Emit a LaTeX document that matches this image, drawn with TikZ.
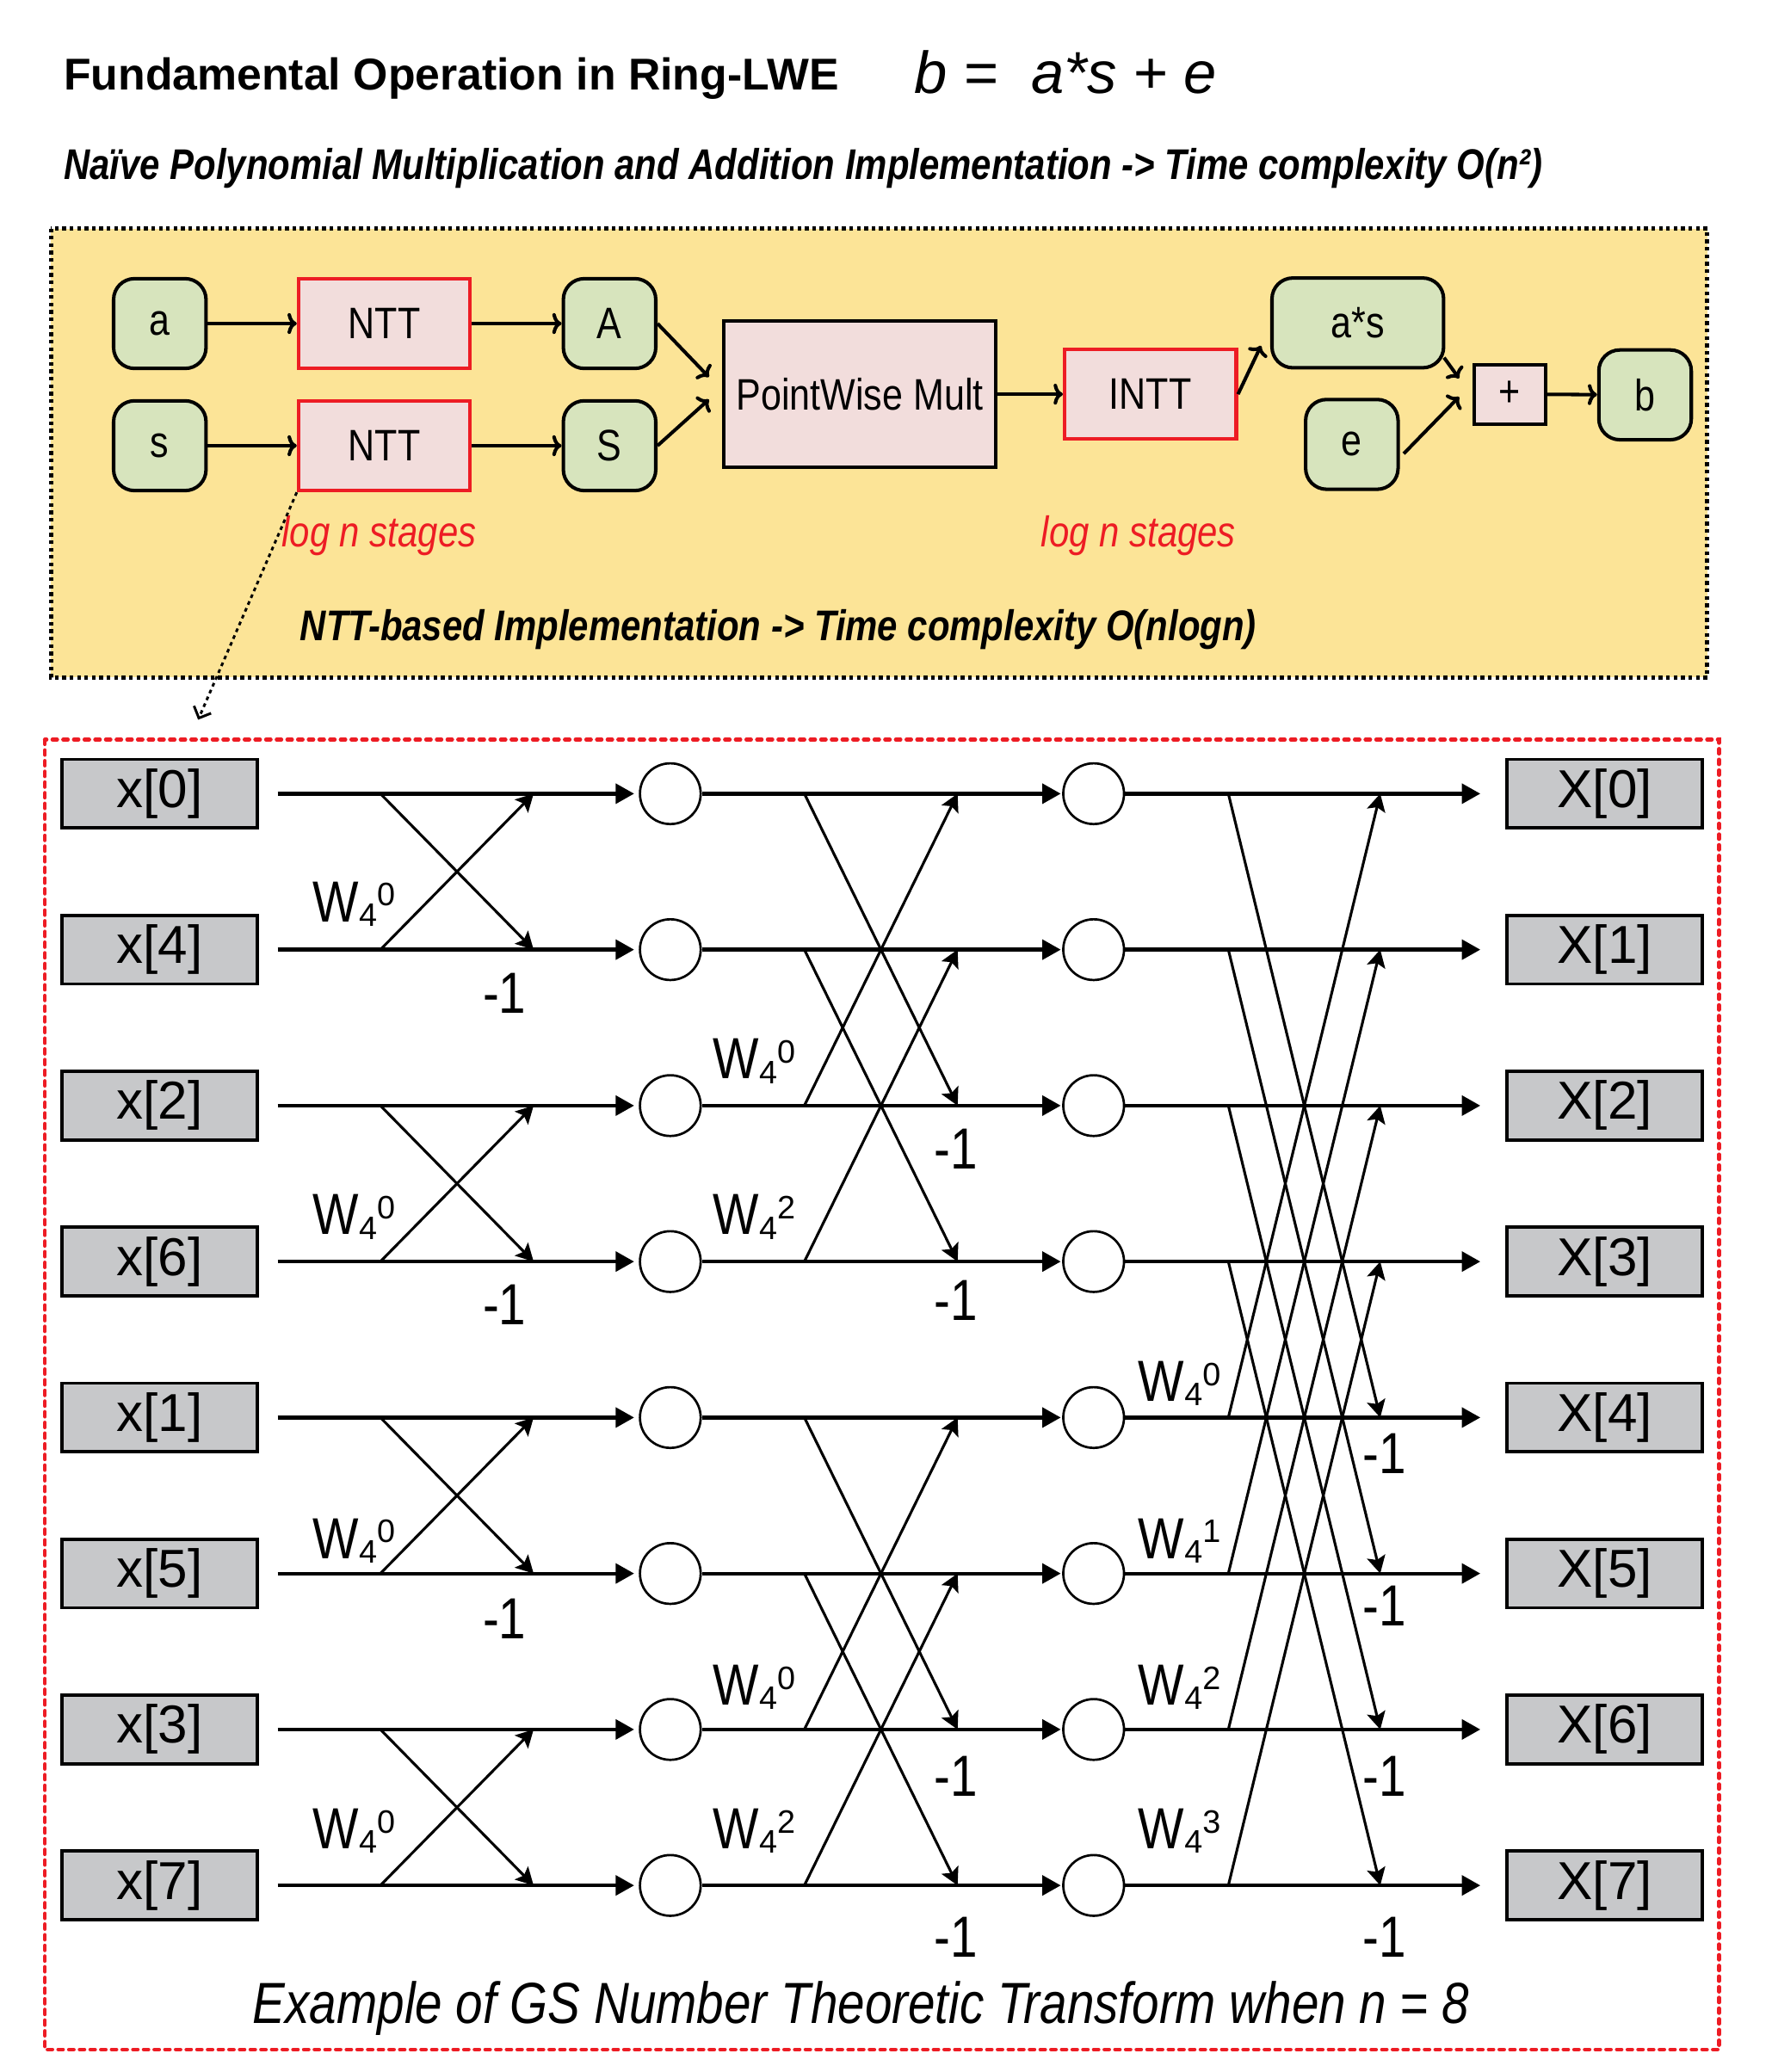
\documentclass[tikz,border=0pt]{standalone}
\usepackage{fontspec}
\setmainfont{Liberation Sans}
\newfontfamily\narrowsans[FakeStretch=0.84]{Liberation Sans}
\usepackage{tikz}
\usetikzlibrary{arrows.meta,positioning,calc}
\definecolor{flowyellow}{RGB}{252,228,151}
\definecolor{valgreen}{RGB}{215,228,189}
\definecolor{oppink}{RGB}{242,221,220}
\definecolor{nttred}{RGB}{237,28,36}
\definecolor{regray}{RGB}{199,200,202}
% 旋转因子 W_4^k
\newcommand{\twid}[1]{{\narrowsans W}\raisebox{-1.9pt}{\fontsize{14}{14}\selectfont 4}\raisebox{6.8pt}{\fontsize{14}{14}\selectfont #1}}
\tikzset{
  % 绿色变量节点
  val/.style={
    draw=black,
    line width=1.5pt,
    fill=valgreen,
    rounded corners=9pt,
    minimum width=1.4cm,
    minimum height=1.36cm,
    inner sep=0pt,
    font=\narrowsans\fontsize{19}{22}\selectfont
  },
  % NTT / INTT 盒子
  trans/.style={
    draw=nttred,
    line width=1.5pt,
    fill=oppink,
    minimum width=2.6cm,
    minimum height=1.36cm,
    inner sep=0pt,
    font=\narrowsans\fontsize{19}{22}\selectfont
  },
  % 运算盒子
  oper/.style={draw=black, line width=1.5pt, fill=oppink, inner sep=0pt,
    font=\narrowsans\fontsize{19}{22}\selectfont},
  % 输入输出盒子
  reg/.style={draw=black, line width=1.4pt, fill=regray,
    minimum width=2.96cm, minimum height=1.04cm, inner sep=0pt,
    font=\fontsize{23}{27}\selectfont},
  % 蝶形节点
  knot/.style={circle, draw=black, line width=1pt, fill=white,
    minimum size=0.92cm, inner sep=0pt},
  % 箭头样式
  arr/.style={-{To[length=4pt,width=9pt]}, line width=1.5pt},
  harr/.style={-{Triangle[length=8pt,width=8.5pt]}, line width=1.6pt},
  barr/.style={-{Stealth[length=7.5pt,width=8pt,inset=1.5pt]}, line width=1.15pt},
  % 标注
  wlab/.style={anchor=base, inner sep=0pt, font=\fontsize{25}{28}\selectfont},
  mlab/.style={anchor=base, inner sep=0pt, font=\narrowsans\fontsize{25}{28}\selectfont},
  note/.style={inner sep=0pt, font=\narrowsans\bfseries\itshape\fontsize{18.5}{22}\selectfont},
}
\begin{document}
\begin{tikzpicture}[x=0.02cm, y=-0.02cm]
  \useasboundingbox (0,0) rectangle (1341,1569);

  % 标题
  \node[anchor=base west, inner sep=0pt, font=\bfseries\fontsize{19.2}{23}\selectfont] (title) at (48,68) {Fundamental Operation in Ring-LWE};
  \node[anchor=base west, inner sep=0pt, font=\itshape\fontsize{25.5}{30}\selectfont] (eqn) at (692,71) {b =\ \ a*s + e};
  \node[note, anchor=base west] (naive) at (48,136) {Naïve Polynomial Multiplication and Addition Implementation -> Time complexity O(n²)};

  % NTT 流程
  \draw[dash pattern=on 1.6pt off 1.6pt, line width=1.8pt, fill=flowyellow] (38.5,173) rectangle (1292.5,513);
  \node[val] (a) at (121,245) {a};
  \node[trans] (ntta) at (291,245) {NTT};
  \node[val] (A) at (461.5,245) {A};
  \node[val] (s) at (121,337.5) {s};
  \node[trans] (ntts) at (291,337.5) {NTT};
  \node[val] (S) at (461.5,337.5) {S};
  \node[oper, minimum width=4.12cm, minimum height=2.22cm] (pw) at (651,298.5) {PointWise Mult};
  \node[trans] (intt) at (871,298.5) {INTT};
  \node[val, minimum width=2.6cm] (as) at (1028,244.5) {a*s};
  \node[val] (e) at (1023.5,336.5) {e};
  \node[oper, minimum width=1.08cm, minimum height=0.9cm] (plus) at (1143,298.5) {+};
  \node[val] (b) at (1245.5,299) {b};

  \coordinate (pwin1) at ($(pw.west)+(-10,-13)$);
  \coordinate (pwin2) at ($(pw.west)+(-10,4)$);
  \coordinate (asin) at ($(as.south west)+(-7,-18)$);
  \coordinate (asout) at ($(as.south east)+(-1,-9)$);
  \coordinate (eout) at ($(e.east)+(3,7)$);
  \coordinate (plusin1) at ($(plus.west)+(-10,-12)$);
  \coordinate (plusin2) at ($(plus.west)+(-10,2)$);

  \draw[arr] (a) -- (ntta);
  \draw[arr] (ntta) -- (A);
  \draw[arr] (s) -- (ntts);
  \draw[arr] (ntts) -- (S);
  \draw[arr] (A.east) -- (pwin1);
  \draw[arr] (S.east) -- (pwin2);
  \draw[arr] (pw) -- (intt);
  \draw[arr] (intt.east) -- (asin);
  \draw[arr] (asout) -- (plusin1);
  \draw[arr] (eout) -- (plusin2);
  \draw[arr] (plus) -- (b);

  \node[anchor=base, inner sep=0pt, text=nttred, font=\narrowsans\itshape\fontsize{18.5}{22}\selectfont] (stga) at (287,414) {log n stages};
  \node[anchor=base, inner sep=0pt, text=nttred, font=\narrowsans\itshape\fontsize{18.5}{22}\selectfont] (stgb) at (862,414) {log n stages};
  \node[note, anchor=base west] (nttcost) at (227,485) {NTT-based Implementation -> Time complexity O(nlogn)};

  \coordinate (zoomtip) at (150,545);
  \draw[dash pattern=on 1.6pt off 1.6pt, line width=1.1pt, -{Straight Barb[length=4pt,width=8pt]}] (ntts.south west) -- (zoomtip);

  % GS 蝶形网络
  \draw[nttred, line width=1.7pt, line cap=round, dash pattern=on 2pt off 2.6pt] (34,560) rectangle (1301.5,1552);
  \foreach \i/\k in {0/0,1/4,2/2,3/6,4/1,5/5,6/3,7/7} {
    \pgfmathsetmacro{\yy}{601+118.1*\i}
    \node[reg] (in\i) at (121,\yy) {x[\k]};
    \node[knot] (ca\i) at (507.5,\yy) {};
    \node[knot] (cb\i) at (828,\yy) {};
    \node[reg] (out\i) at (1215,\yy) {X[\i]};
    \coordinate (sa\i) at (288,\yy);
    \coordinate (ea\i) at (404,\yy);
    \coordinate (sb\i) at (609,\yy);
    \coordinate (eb\i) at (725,\yy);
    \coordinate (sc\i) at (930,\yy);
    \coordinate (ec\i) at (1045,\yy);
    \draw[harr, shorten <=0.28cm, shorten >=0.07cm] (in\i) -- (ca\i);
    \draw[harr, shorten >=0.02cm] (ca\i) -- (cb\i);
    \draw[harr, shorten >=0.38cm] (cb\i) -- (out\i);
  }
  \foreach \t/\b in {0/1,2/3,4/5,6/7} {
    \draw[barr] (sa\t) -- (ea\b);
    \draw[barr] (sa\b) -- (ea\t);
  }
  \foreach \t/\b in {0/2,1/3,4/6,5/7} {
    \draw[barr] (sb\t) -- (eb\b);
    \draw[barr] (sb\b) -- (eb\t);
  }
  \foreach \t/\b in {0/4,1/5,2/6,3/7} {
    \draw[barr] (sc\t) -- (ec\b);
    \draw[barr] (sc\b) -- (ec\t);
  }

  % 旋转因子与 -1
  \foreach \n/\y/\p in {1/698/0,3/935/0,5/1180/0,7/1400/0} {
    \node[wlab] (wa\n) at (268,\y) {\twid{\p}};
  }
  \foreach \n/\y/\p in {2/817/0,3/935/2,6/1291/0,7/1400/2} {
    \node[wlab] (wb\n) at (571,\y) {\twid{\p}};
  }
  \foreach \n/\y/\p in {4/1061/0,5/1180/1,6/1291/2,7/1400/3} {
    \node[wlab] (wc\n) at (893,\y) {\twid{\p}};
  }
  \foreach \n/\y in {1/767,3/1003,5/1241} {
    \node[mlab] (ma\n) at (382,\y) {-1};
  }
  \foreach \n/\y in {2/885,3/1000,6/1360,7/1482} {
    \node[mlab] (mb\n) at (724,\y) {-1};
  }
  \foreach \n/\y in {4/1116,5/1231,6/1360,7/1482} {
    \node[mlab] (mc\n) at (1048,\y) {-1};
  }

  \node[anchor=base, inner sep=0pt, font=\narrowsans\itshape\fontsize{25}{30}\selectfont] (caption) at (652,1532) {Example of GS Number Theoretic Transform when n = 8};
\end{tikzpicture}
\end{document}
